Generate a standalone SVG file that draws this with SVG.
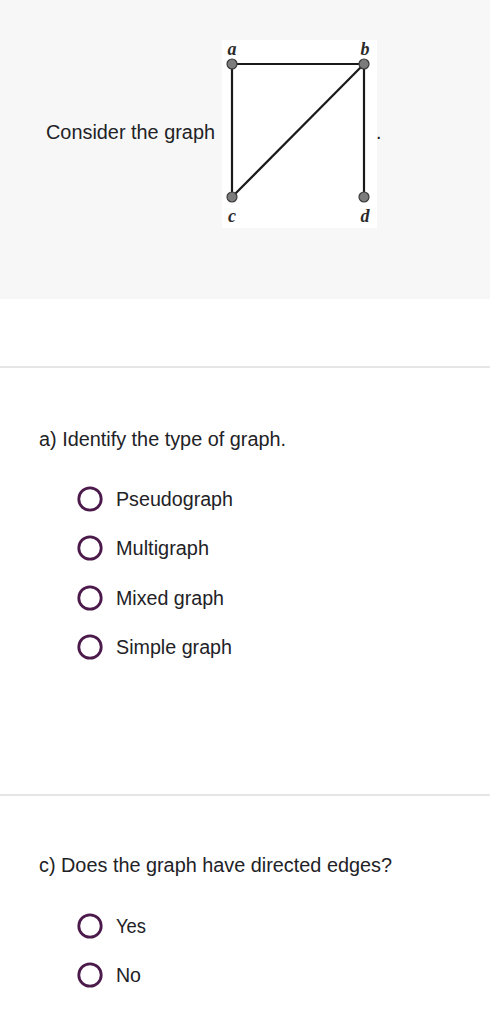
<svg xmlns="http://www.w3.org/2000/svg" width="490" height="1024" viewBox="0 0 490 1024">
<style>
.t{font-family:"Liberation Sans",Arial,sans-serif;font-size:19.5px;fill:#222226}
.lbl{font-family:"Liberation Serif","Times New Roman",serif;font-style:italic;font-weight:bold;font-size:18px;fill:#2a2a2a;text-anchor:middle}
.edge{stroke:#1a1a1a;stroke-width:2.2;fill:none}
.vtx{fill:#7c7c7c;stroke:#3a3a3a;stroke-width:1.2}
.radio{fill:none;stroke:#4b1a4b;stroke-width:2.8}
.div{stroke:#e6e6e6;stroke-width:2}
</style>
<rect x="0" y="0" width="490" height="1024" fill="#ffffff"/>
<rect x="0" y="0" width="490" height="299" fill="#f7f7f7"/>
<rect x="222" y="40" width="155" height="188" fill="#ffffff"/>
<text class="t" x="46" y="139" textLength="169" lengthAdjust="spacingAndGlyphs">Consider the graph</text>
<text class="t" x="376" y="139">.</text>
<g id="connectors">
<line class="edge" x1="232" y1="64" x2="364" y2="64"/>
<line class="edge" x1="232" y1="64" x2="232" y2="197"/>
<line class="edge" x1="364" y1="64" x2="364" y2="197"/>
<line class="edge" x1="232" y1="197" x2="364" y2="64" stroke-width="1.7" stroke="#262626"/>
</g>
<g id="node-a"><circle class="vtx" cx="232" cy="64" r="5"/><text class="lbl" x="232" y="55">a</text></g>
<g id="node-b"><circle class="vtx" cx="364" cy="64" r="5"/><text class="lbl" x="365" y="55">b</text></g>
<g id="node-c"><circle class="vtx" cx="232" cy="197" r="5"/><text class="lbl" x="232" y="222">c</text></g>
<g id="node-d"><circle class="vtx" cx="364" cy="197" r="5"/><text class="lbl" x="365" y="222">d</text></g>
<line class="div" x1="0" y1="367" x2="490" y2="367"/>
<text class="t" x="39" y="446" textLength="247" lengthAdjust="spacingAndGlyphs">a) Identify the type of graph.</text>
<g id="opt-pseudo"><circle class="radio" cx="90" cy="499" r="11.2"/><text class="t" x="116" y="506" textLength="117" lengthAdjust="spacingAndGlyphs">Pseudograph</text></g>
<g id="opt-multi"><circle class="radio" cx="90" cy="548" r="11.2"/><text class="t" x="116" y="555" textLength="93" lengthAdjust="spacingAndGlyphs">Multigraph</text></g>
<g id="opt-mixed"><circle class="radio" cx="90" cy="598" r="11.2"/><text class="t" x="116" y="605" textLength="108" lengthAdjust="spacingAndGlyphs">Mixed graph</text></g>
<g id="opt-simple"><circle class="radio" cx="90" cy="647" r="11.2"/><text class="t" x="116" y="654" textLength="116" lengthAdjust="spacingAndGlyphs">Simple graph</text></g>
<line class="div" x1="0" y1="795" x2="490" y2="795"/>
<text class="t" x="39" y="872" textLength="353" lengthAdjust="spacingAndGlyphs">c) Does the graph have directed edges?</text>
<g id="opt-yes"><circle class="radio" cx="90" cy="926" r="11.2"/><text class="t" x="116" y="933" textLength="30" lengthAdjust="spacingAndGlyphs">Yes</text></g>
<g id="opt-no"><circle class="radio" cx="90" cy="975" r="11.2"/><text class="t" x="116" y="982" textLength="25" lengthAdjust="spacingAndGlyphs">No</text></g>
</svg>
